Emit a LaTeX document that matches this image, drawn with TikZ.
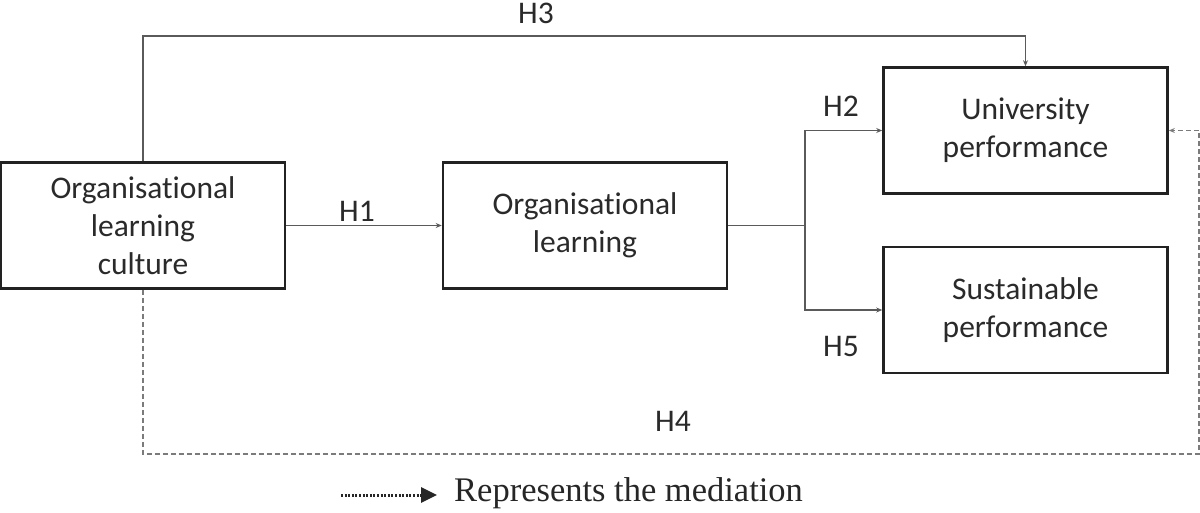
\documentclass[tikz,border=0pt]{standalone}
\usepackage{fontspec}
\setmainfont{Carlito}[Ligatures=NoCommon]
\newfontfamily\legendfont{Liberation Serif}
\usetikzlibrary{arrows.meta}
\definecolor{boxline}{HTML}{222222}
\definecolor{conn}{HTML}{5A5A5A}
\definecolor{txt}{HTML}{2A2A2A}
\tikzset{
  varbox/.style={draw=boxline, line width=2.6pt, minimum width=284pt, minimum height=126pt,
    align=center, inner sep=0pt, font=\fontsize{31.5}{38}\selectfont, text=txt},
  link/.style={draw=conn, line width=1.1pt, -{Stealth[length=6pt,width=5pt]}},
  medlink/.style={draw=conn!80, line width=1.1pt, dash pattern=on 5pt off 3pt, -{Stealth[length=6pt,width=5pt,open]}},
  hlabel/.style={font=\fontsize{31.5}{36}\selectfont, text=txt, inner sep=0pt}
}
\begin{document}
\begin{tikzpicture}[x=1pt,y=-1pt]
\useasboundingbox (0,0) rectangle (1200,513);
\node[varbox] (olc) at (143,225.5) {Organisational\\learning\\culture};
\node[varbox] (ol) at (585,225.5) {Organisational\\learning};
\node[varbox] (up) at (1025.5,130.5) {University\\performance};
\node[varbox] (sp) at (1025.5,310) {Sustainable\\performance};
\coordinate (br) at (805,225.5);
\draw[link] (olc.east) -- (ol.west);
\draw[draw=conn, line width=1.1pt] (ol.east) -- (br);
\draw[link] (br) |- (up.west);
\draw[link] (br) |- (sp.west);
\draw[link] (olc.north) -- (143,36) -| (up.north);
\draw[medlink] (olc.south) -- (143,454) -- (1199,454) |- (up.east);
\node[hlabel] (h1) at (357,211) {H1};
\node[hlabel] (h2) at (841,106) {H2};
\node[hlabel] (h3) at (536,13.5) {H3};
\node[hlabel] (h4) at (673,421) {H4};
\node[hlabel] (h5) at (841,347) {H5};
\coordinate (ls) at (341,495);
\coordinate (le) at (437,495);
\draw[line width=3pt, dash pattern=on 2pt off 1.6pt, -{Triangle[length=16pt,width=15pt]}, black!85] (ls) -- (le);
\node[anchor=west, font=\legendfont\fontsize{34.5}{40}\selectfont, text=black!85, inner sep=0pt] (leg) at (454,493) {Represents the mediation};
\end{tikzpicture}
\end{document}
